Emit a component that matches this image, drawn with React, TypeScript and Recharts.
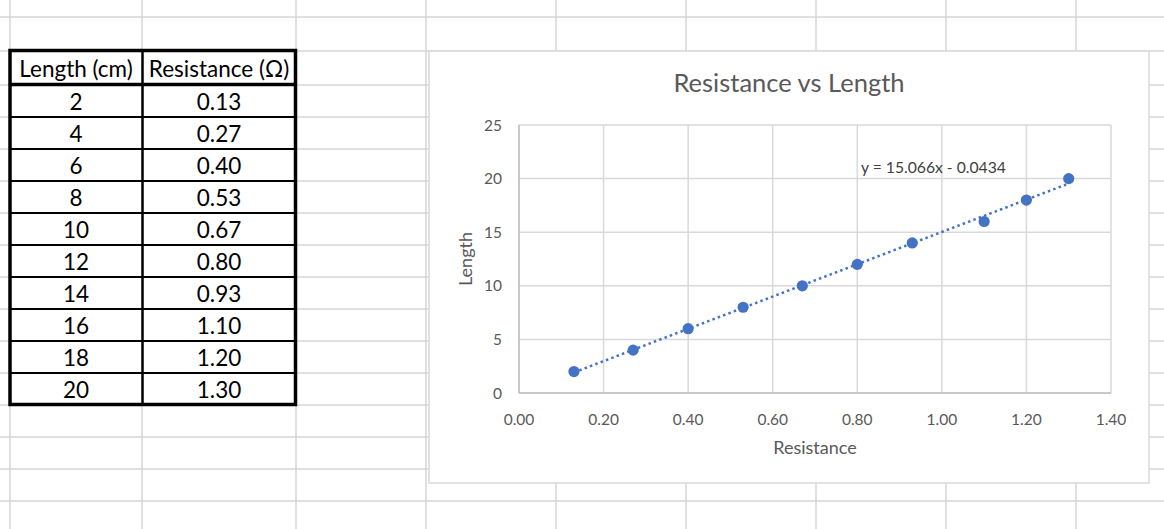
import React from 'react';
import { ScatterChart, Scatter, XAxis, YAxis, CartesianGrid, Label } from 'recharts';

// table / series values
const lengths = [2, 4, 6, 8, 10, 12, 14, 16, 18, 20];
const resistances = [0.13, 0.27, 0.4, 0.53, 0.67, 0.8, 0.93, 1.1, 1.2, 1.3];
const headers = ['Length (cm)', 'Resistance (Ω)'];

// axis ticks
const xTicks = [0, 0.2, 0.4, 0.6, 0.8, 1.0, 1.2, 1.4];
const yTicks = [0, 5, 10, 15, 20, 25];

// linear trendline end points, as drawn
const trendX = [0.13, 1.3];
const trendY = [1.92, 19.54];
const equation = 'y = 15.066x - 0.0434';

const points = resistances.map((r, i) => ({ x: r, y: lengths[i] }));
const trend = trendX.map((x, i) => ({ x, y: trendY[i] }));

// spreadsheet grid
const colLines = [10, 142, 296, 426, 556, 686, 816, 946, 1076];
const rowLines = [17, 51, 85, 117, 149, 181, 213, 245, 277, 309, 341, 373, 405, 437, 469, 501];

const FONT = 'Lato, "Open Sans", sans-serif';
const GRID = '#d6d6d6';
const TEXT = '#595959';
const BLUE = '#4472C4';

const Sheet = () => {
    const colMid = [76, 219];
    return (
        <svg width={1164} height={529} style={{ position: 'absolute', left: 0, top: 0 }}>
            <rect width={1164} height={529} fill="#fff" />
            {colLines.map((x) => (
                <line key={'c' + x} x1={x} x2={x} y1={0} y2={529} stroke={GRID} strokeWidth={1.5} />
            ))}
            {rowLines.map((y) => (
                <line key={'r' + y} x1={0} x2={1164} y1={y} y2={y} stroke={GRID} strokeWidth={1.5} />
            ))}

            {/* data table */}
            <rect x={10} y={51} width={286} height={354} fill="#fff" />
            {lengths.slice(1).map((_, i) => (
                <line key={'h' + i} x1={10} x2={296} y1={117 + i * 32} y2={117 + i * 32} stroke="#000" strokeWidth={2} />
            ))}
            <line x1={10} x2={296} y1={84.5} y2={84.5} stroke="#000" strokeWidth={3.5} />
            <line x1={142.5} x2={142.5} y1={51} y2={405} stroke="#000" strokeWidth={2.5} />
            <rect x={10} y={50.5} width={285.5} height={354} fill="none" stroke="#000" strokeWidth={3.5} />
            <g fontFamily={FONT} fontSize={22.5} fill="#000" textAnchor="middle">
                {headers.map((h, i) => (
                    <text key={h} x={colMid[i]} y={77}>{h}</text>
                ))}
                {lengths.map((l, i) => (
                    <text key={'l' + i} x={colMid[0]} y={85 + i * 32 + 24.5}>{l}</text>
                ))}
                {resistances.map((r, i) => (
                    <text key={'v' + i} x={colMid[1]} y={85 + i * 32 + 24.5}>{r.toFixed(2)}</text>
                ))}
            </g>

            {/* chart frame */}
            <rect x={429} y={51} width={720} height={432} fill="#fff" stroke="#d9d9d9" strokeWidth={1.5} />
        </svg>
    );
};

const Dot = (props: any) => <circle cx={props.cx} cy={props.cy} r={5.6} fill={BLUE} />;

export default function App() {
    return (
        <div style={{ position: 'absolute', left: 0, top: 0, width: 1164, height: 529, overflow: 'hidden' }}>
            <Sheet />
            <div style={{ position: 'absolute', left: 429, top: 51 }}>
                <ScatterChart width={720} height={432} margin={{ top: 74, right: 38, bottom: 24, left: 20 }}>
                    <CartesianGrid stroke="#d9d9d9" strokeWidth={1.5} />
                    <XAxis
                        type="number"
                        dataKey="x"
                        domain={[0, 1.4]}
                        ticks={xTicks}
                        interval={0}
                        tickFormatter={(v) => v.toFixed(2)}
                        height={66}
                        tickSize={0}
                        tickMargin={21}
                        axisLine={{ stroke: '#bfbfbf', strokeWidth: 1.5 }}
                        tick={{ fill: TEXT, fontSize: 15.5, fontFamily: FONT }}
                    >
                        <Label value="Resistance" position="insideBottom" offset={5} fill={TEXT} fontSize={18} fontFamily={FONT} />
                    </XAxis>
                    <YAxis
                        type="number"
                        dataKey="y"
                        domain={[0, 25]}
                        ticks={yTicks}
                        interval={0}
                        width={70}
                        tickSize={0}
                        tickMargin={17}
                        axisLine={{ stroke: '#bfbfbf', strokeWidth: 1.5 }}
                        tick={{ fill: TEXT, fontSize: 15.5, fontFamily: FONT }}
                    >
                        <Label
                            value="Length"
                            angle={-90}
                            position="insideLeft"
                            offset={17}
                            fill={TEXT}
                            fontSize={18}
                            fontFamily={FONT}
                            style={{ textAnchor: 'middle' }}
                        />
                    </YAxis>
                    <Scatter
                        data={trend}
                        line={{ stroke: BLUE, strokeWidth: 2.5, strokeDasharray: '2.5 3.2' }}
                        lineType="joint"
                        shape={() => <g />}
                        isAnimationActive={false}
                    />
                    <Scatter data={points} shape={Dot} isAnimationActive={false} />
                    <text x={360} y={41} textAnchor="middle" fontSize={25.5} fontFamily={FONT} fill={TEXT}>
                        Resistance vs Length
                    </text>
                    <text x={432} y={122} fontSize={15.7} fontFamily={FONT} fill="#404040">
                        {equation}
                    </text>
                </ScatterChart>
            </div>
        </div>
    );
}
